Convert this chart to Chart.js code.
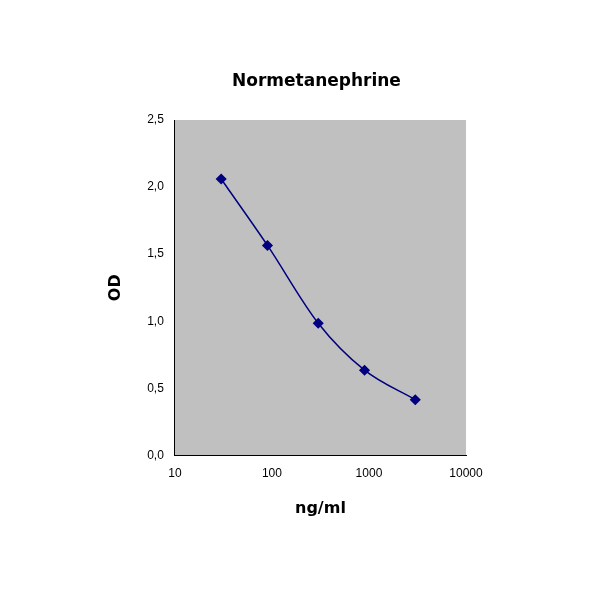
<!DOCTYPE html>
<html>
<head>
<meta charset="utf-8">
<script src="https://cdn.jsdelivr.net/npm/chart.js@4"></script>
<style>
  body { margin: 0; background: #fff; }
  #wrap { width: 600px; height: 600px; }
</style>
</head>
<body>
<div id="wrap"><canvas id="chart"></canvas></div>
<script>
// Datos
const concentraciones = [30, 90, 300, 900, 3000];
const densidadOptica = [2.06, 1.565, 0.985, 0.635, 0.415];
const ticksX = [10, 100, 1000, 10000];
const titulo = 'Normetanephrine';

// Fondo gris del área del gráfico y título centrado sobre ella
const fondoArea = {
    id: 'fondoArea',
    beforeDraw(chart) {
        const a = chart.chartArea;
        const ctx = chart.ctx;
        ctx.save();
        ctx.fillStyle = '#c0c0c0';
        ctx.fillRect(a.left, a.top, a.right - a.left, a.bottom - a.top);
        ctx.fillStyle = '#000';
        ctx.font = 'bold 17px "DejaVu Sans"';
        ctx.textAlign = 'center';
        ctx.textBaseline = 'middle';
        ctx.fillText(titulo, (a.left + a.right) / 2 - 4, a.top - 38);
        ctx.restore();
    }
};

const ctx = document.getElementById('chart').getContext('2d');
new Chart(ctx, {
    type: 'line',
    data: {
        datasets: [{
            data: concentraciones.map((c, i) => ({x: c, y: densidadOptica[i]})),
            borderColor: '#000080',
            backgroundColor: '#000080',
            borderWidth: 1.5,
            pointStyle: 'rectRot',
            pointRadius: 4.5,
            cubicInterpolationMode: 'monotone'
        }]
    },
    options: {
        responsive: true,
        maintainAspectRatio: false,
        animation: false,
        layout: {padding: {left: 102, right: 134, top: 120, bottom: 78}},
        plugins: {
            legend: {display: false},
            tooltip: {enabled: false},
            title: {display: false}
        },
        scales: {
            x: {
                type: 'logarithmic',
                min: 10,
                max: 10000,
                afterBuildTicks: s => { s.ticks = ticksX.map(v => ({value: v})); },
                ticks: {color: '#000', font: {family: 'Arial', size: 12}, callback: v => String(v), maxRotation: 0, padding: 6},
                grid: {display: false, drawTicks: true, tickLength: 5, tickColor: '#000'},
                border: {color: '#000'},
                title: {display: true, text: 'ng/ml', color: '#000', font: {family: 'DejaVu Sans', size: 16, weight: 'bold'}, padding: {top: 12}}
            },
            y: {
                min: 0,
                max: 2.5,
                ticks: {stepSize: 0.5, color: '#000', font: {family: 'Arial', size: 12}, padding: 6,
                    callback: v => v.toFixed(1).replace('.', ',')},
                grid: {display: false, drawTicks: true, tickLength: 5, tickColor: '#000'},
                border: {color: '#000'},
                title: {display: true, text: 'OD', color: '#000', font: {family: 'DejaVu Sans', size: 16, weight: 'bold'}, padding: {bottom: 16}}
            }
        }
    },
    plugins: [fondoArea]
});
</script>
</body>
</html>
